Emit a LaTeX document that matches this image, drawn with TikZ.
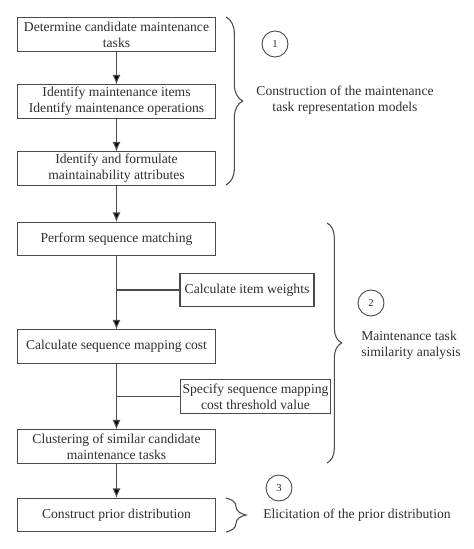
\documentclass[tikz,border=0pt]{standalone}
\usepackage{fontspec}
\setmainfont{Liberation Serif}
\usetikzlibrary{arrows.meta,decorations.pathreplacing,positioning}
\definecolor{ink}{HTML}{2E2E2E}
\definecolor{rule}{HTML}{4A4A4A}

\begin{document}
\begin{tikzpicture}[x=0.75pt,y=-0.75pt,
  every node/.style={text=ink, font=\fontsize{10.2pt}{12pt}\selectfont},
  stepbox/.style={draw=rule, line width=0.8pt, align=center, inner sep=1pt,
    minimum width=149pt, minimum height=25pt},
  sidebox/.style={draw=rule, line width=0.8pt, align=center, inner sep=1pt,
    minimum height=25pt},
  flow/.style={draw=rule, line width=0.8pt, -{Latex[length=7pt,width=6pt,fill=black]}},
  branch/.style={draw=rule, line width=0.8pt},
  curly/.style={draw=rule, line width=0.8pt, decorate,
    decoration={brace, amplitude=#1}},
  phase/.style={draw=rule, line width=0.7pt, circle, minimum size=19.5pt,
    inner sep=0pt, font=\fontsize{8pt}{9pt}\selectfont}]
  \useasboundingbox (0,0) rectangle (474,549);

  % main steps
  \node[stepbox] (cand) at (116.5,34.5) {Determine candidate maintenance\\tasks};
  \node[stepbox] (items) at (116.5,101.5) {Identify maintenance items\\Identify maintenance operations};
  \node[stepbox] (attr) at (116.5,168.5) {Identify and formulate\\maintainability attributes};
  \node[stepbox] (match) at (116.5,239) {Perform sequence matching};
  \node[stepbox] (cost) at (116.5,346.5) {Calculate sequence mapping cost};
  \node[stepbox] (clust) at (116.5,446.5) {Clustering of similar candidate\\maintenance tasks};
  \node[stepbox] (prior) at (116.5,515) {Construct prior distribution};

  % side inputs
  \node[sidebox, minimum width=100.5pt] (weights) at (247,290) {Calculate item weights};
  \node[sidebox, minimum width=113pt] (thresh) at (255.5,396.5) {Specify sequence mapping\\cost threshold value};

  \draw[flow] (cand) -- (items);
  \draw[flow] (items) -- (attr);
  \draw[flow] (attr) -- (match);
  \draw[flow] (match) -- (cost);
  \draw[flow] (cost) -- (clust);
  \draw[flow] (clust) -- (prior);
  \draw[branch] (weights.west) -- (weights.west -| match.south);
  \draw[branch] (thresh.west) -- (thresh.west -| cost.south);

  % stages
  \draw[curly=12.5pt] (226,17) -- (226,185);
  \node[phase] (one) at (275,44) {1};
  \node[align=center] (stageone) at (345,100) {Construction of the maintenance\\task representation models};

  \draw[curly=11pt] (327,223) -- (327,463);
  \node[phase] (two) at (371,303) {2};
  \node[align=left, anchor=west, inner sep=0pt] (stagetwo) at (361,345) {Maintenance task\\similarity analysis};

  \draw[curly=15pt] (226,498) -- (226,532);
  \node[phase] (three) at (279,488) {3};
  \node[anchor=west, inner sep=0pt] (stagethree) at (263,515) {Elicitation of the prior distribution};
\end{tikzpicture}
\end{document}
